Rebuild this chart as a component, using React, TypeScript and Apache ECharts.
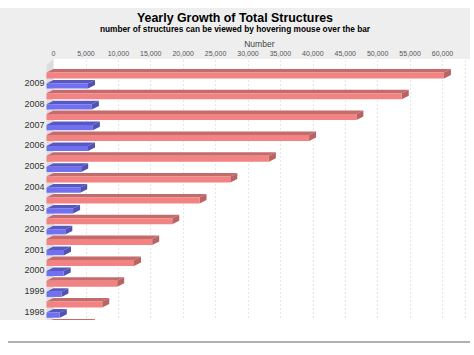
import React, { useEffect, useRef } from "react";
import * as echarts from "echarts";

const years = ["2009", "2008", "2007", "2006", "2005", "2004", "2003", "2002", "2001", "2000", "1999", "1998", "1997"];
const totalStructures = [61300, 54800, 47800, 40500, 34300, 28350, 23600, 19400, 16300, 13500, 10900, 8600, 6400];
const yearlyStructures: (number | null)[] = [6400, 7000, 7150, 6400, 5350, 5200, 4100, 2900, 2700, 2650, 2300, 2050, null];
const axisMin = 0;
const axisMax = 63500;
const axisInterval = 5000;

const DX = 7;
const DY = 3.5;

function makeRender(front: string, top: string, side: string, offset: number, h: number) {
  return (params: any, api: any) => {
    const v = api.value(0);
    const idx = api.value(1);
    const a = api.coord([0, idx]);
    const b = api.coord([v, idx]);
    const x0 = a[0];
    const x1 = b[0];
    const c = a[1];
    const bt = c + offset;
    const bb = bt + h;
    const ft = bt + DY;
    const fb = bb + DY;
    const fx0 = x0 - DX;
    const fx1 = x1 - DX;
    return {
      type: "group",
      children: [
        { type: "polygon", shape: { points: [[fx0, ft], [fx1, ft], [x1, bt], [x0, bt]] }, style: { fill: top } },
        { type: "polygon", shape: { points: [[fx1, ft], [x1, bt], [x1, bb], [fx1, fb]] }, style: { fill: side } },
        { type: "rect", shape: { x: fx0, y: ft, width: fx1 - fx0, height: fb - ft }, style: { fill: front } },
      ],
    };
  };
}

export default function App() {
  const ref = useRef<HTMLDivElement>(null);
  useEffect(() => {
    if (!ref.current) return;
    const chart = echarts.init(ref.current, null, { renderer: "svg" });
    const redData = totalStructures.map((v, i) => [v, i]);
    const blueData = yearlyStructures
      .map((v, i) => (v == null ? null : [v, i]))
      .filter((d) => d !== null);
    chart.setOption({
      animation: false,
      backgroundColor: "#eeeeee",
      title: [
        {
          text: "Yearly Growth of Total Structures",
          left: "center",
          top: -1,
          textStyle: { fontFamily: "Liberation Sans, Arial, sans-serif", fontSize: 12.4, fontWeight: "bold", color: "#000" },
        },
        {
          text: "number of structures can be viewed by hovering mouse over the bar",
          left: "center",
          top: 12,
          textStyle: { fontFamily: "Liberation Sans, Arial, sans-serif", fontSize: 8.3, fontWeight: "bold", color: "#000" },
        },
      ],
      graphic: [
        {
          type: "polygon",
          z: -10,
          shape: { points: [[46.5, 57], [53.5, 51], [470, 51], [470, 340], [46.5, 340]] },
          style: { fill: "#ffffff" },
        },
        {
          type: "polygon",
          z: -9,
          shape: { points: [[46.5, 57], [53.5, 51], [53.5, 340], [46.5, 340]] },
          style: { fill: "#dddddd" },
        },
      ],
      grid: { left: 53.5, top: 52, width: ((axisMax - axisMin) * 6.483) / 1000, height: 270.8 },
      xAxis: {
        type: "value",
        position: "top",
        min: axisMin,
        max: axisMax,
        interval: axisInterval,
        name: "Number",
        nameLocation: "middle",
        nameGap: 11.5,
        nameMoveOverlap: false,
        nameTextStyle: { fontFamily: "Liberation Sans, Arial, sans-serif", fontSize: 8.5, color: "#444" },
        axisLine: { show: false },
        axisTick: { show: false },
        axisLabel: {
          margin: 3,
          showMaxLabel: false,
          fontFamily: "'Liberation Sans Narrow', 'Liberation Sans', sans-serif",
          fontSize: 7,
          color: "#555",
          formatter: (v: number) => v.toLocaleString("en-US"),
        },
        splitLine: { show: true, lineStyle: { color: "#e6e6e6", type: [2, 2], width: 1 } },
      },
      yAxis: {
        type: "category",
        data: years,
        inverse: true,
        axisLine: { show: false },
        axisTick: { show: false },
        splitLine: { show: false },
        axisLabel: {
          interval: 0,
          showMinLabel: true,
          hideOverlap: false,
          margin: 9,
          verticalAlign: "middle",
          lineHeight: 25,
          formatter: (v: string) => "\n" + v,
          fontFamily: "Liberation Sans, Arial, sans-serif",
          fontSize: 9,
          color: "#333",
        },
      },
      series: [
        {
          type: "custom",
          name: "Total",
          data: redData,
          encode: { x: 0, y: 1 },
          renderItem: makeRender("#f38282", "#c46b6b", "#b96464", -1.5, 6),
        },
        {
          type: "custom",
          name: "Yearly",
          data: blueData,
          encode: { x: 0, y: 1 },
          renderItem: makeRender("#7070f0", "#5858c2", "#5252b4", 9.5, 5.2),
        },
      ],
    });
    return () => chart.dispose();
  }, []);
  return (
    <div style={{ position: "absolute", left: 0, top: 0, width: 474, height: 355, background: "#fff", overflow: "hidden" }}>
      <div style={{ position: "absolute", left: 0, top: 8, width: 470, height: 312, overflow: "hidden", background: "#eeeeee" }}>
        <div ref={ref} style={{ width: 470, height: 340 }} />
      </div>
      <div style={{ position: "absolute", left: 8, top: 341, width: 462, height: 2, background: "#b0b0b0" }} />
    </div>
  );
}
